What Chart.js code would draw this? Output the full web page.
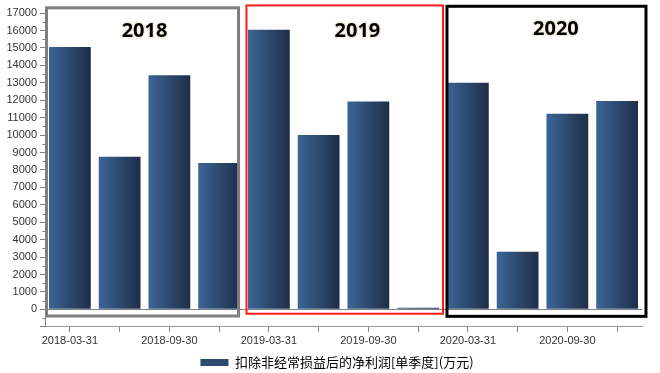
<!DOCTYPE html>
<html>
<head>
<meta charset="utf-8">
<script src="https://cdn.jsdelivr.net/npm/chart.js@4"></script>
<style>
  body { margin: 0; background: #fff; }
  #wrap { width: 660px; height: 373px; position: relative; }
</style>
</head>
<body>
<div id="wrap"><canvas id="myChart"></canvas></div>
<script>
const quarters = ['2018-03-31','2018-06-30','2018-09-30','2018-12-31',
                  '2019-03-31','2019-06-30','2019-09-30','2019-12-31',
                  '2020-03-31','2020-06-30','2020-09-30','2020-12-31'];
const profit = [15050, 8750, 13430, 8400, 16050, 10000, 11920, 100, 13000, 3300, 11230, 11950];
const seriesName = '扣除非经常损益后的净利润[单季度](万元)';

// year boxes: [from index, to index, top value, bottom value]
const yearNames = ['2018', '2019', '2020'];
const yearBoxes = [[-0.47, 3.39, 17300, -380], [3.55, 7.5, 17440, -250], [7.58, 11.58, 17390, -400]];
const yearLabelPos = [[1.5, 15950], [5.78, 15950], [9.77, 16050]];
const boxColors = ['#7f7f7f', '#ff1a1a', '#000000'];
const boxWidths = [3, 2, 3];

function barGradient(ctx) {
  const chart = ctx.chart;
  if (!chart.chartArea || ctx.dataIndex === undefined) return '#2c4a72';
  const xs = chart.scales.x;
  const c = xs.getPixelForValue(ctx.dataIndex);
  const w = xs.width / quarters.length * 0.84;
  const g = chart.ctx.createLinearGradient(c - w / 2, 0, c + w / 2, 0);
  g.addColorStop(0, '#3b6596');
  g.addColorStop(1, '#1f2e48');
  return g;
}

const yearPlugin = {
  id: 'yearBoxes',
  afterLayout(chart) {
    // legend sits a bit right of centre in the original
    chart.legend.left += 16;
    chart.legend.right += 16;
  },
  afterDatasetsDraw(chart) {
    const c = chart.ctx, xs = chart.scales.x, ys = chart.scales.y;
    const step = xs.width / quarters.length;
    const px = v => xs.getPixelForValue(0) + v * step;
    c.save();
    // zero line
    c.strokeStyle = '#808080';
    c.lineWidth = 1;
    c.beginPath();
    const y0 = Math.round(ys.getPixelForValue(0)) + 0.5;
    c.moveTo(chart.chartArea.left, y0);
    c.lineTo(chart.chartArea.right, y0);
    // minor ticks on the y axis
    const left = Math.round(ys.right) + 0.5;
    for (let v = -500; v < 17200; v += 1000) {
      const y = Math.round(ys.getPixelForValue(v)) + 0.5;
      c.moveTo(left - 3, y);
      c.lineTo(left, y);
    }
    c.stroke();
    yearBoxes.forEach((b, i) => {
      c.strokeStyle = boxColors[i];
      c.lineWidth = boxWidths[i];
      const x1 = px(b[0]), x2 = px(b[1]);
      const y1 = ys.getPixelForValue(b[2]), y2 = ys.getPixelForValue(b[3]);
      c.strokeRect(x1, y1, x2 - x1, y2 - y1);
    });
    c.font = 'bold 20px "Open Sans"';
    c.textAlign = 'center';
    c.textBaseline = 'middle';
    yearNames.forEach((t, i) => {
      const x = px(yearLabelPos[i][0]), y = ys.getPixelForValue(yearLabelPos[i][1]);
      c.lineWidth = 3;
      c.strokeStyle = '#f3efe6';
      c.strokeText(t, x, y);
      c.fillStyle = '#000';
      c.fillText(t, x, y);
    });
    c.restore();
  }
};

new Chart(document.getElementById('myChart'), {
  type: 'bar',
  data: {
    labels: quarters,
    datasets: [{
      label: seriesName,
      data: profit,
      backgroundColor: barGradient,
      borderWidth: 0,
      categoryPercentage: 1,
      barPercentage: 0.84
    }]
  },
  options: {
    responsive: true,
    maintainAspectRatio: false,
    animation: false,
    layout: { padding: { top: 8, right: 18, left: 0, bottom: -6 } },
    plugins: {
      tooltip: { enabled: false },
      legend: {
        position: 'bottom',
        labels: {
          boxWidth: 28, boxHeight: 7, padding: 3,
          color: '#333',
          font: { size: 13, family: '"Noto Sans CJK SC", sans-serif' },
          generateLabels: chart => [{
            text: seriesName,
            fillStyle: '#2c4a72',
            strokeStyle: '#2c4a72',
            lineWidth: 0,
            datasetIndex: 0
          }]
        }
      }
    },
    scales: {
      x: {
        offset: true,
        afterFit: s => { s.height += 2; },
        grid: { offset: false, drawOnChartArea: false, tickLength: 5, color: '#808080' },
        border: { color: '#999', width: 1 },
        ticks: {
          autoSkip: false, maxRotation: 0, padding: 3,
          color: '#333',
          font: { size: 11, family: '"Liberation Sans", Arial' },
          callback: (v, i) => i % 2 === 0 ? quarters[i] : ''
        }
      },
      y: {
        min: -1000,
        max: 17200,
        afterFit: s => { s.width = 45; },
        afterBuildTicks: s => {
          s.ticks = [];
          for (let v = -1000; v <= 17000; v += 1000) s.ticks.push({ value: v });
        },
        grid: { drawOnChartArea: false, tickLength: 5, color: '#808080' },
        border: { color: '#808080', width: 1 },
        ticks: {
          autoSkip: false,
          padding: 3,
          color: '#333',
          font: { size: 11, family: '"Liberation Sans", Arial' },
          callback: v => v >= 0 ? String(v) : ''
        }
      }
    }
  },
  plugins: [yearPlugin]
});
</script>
</body>
</html>
